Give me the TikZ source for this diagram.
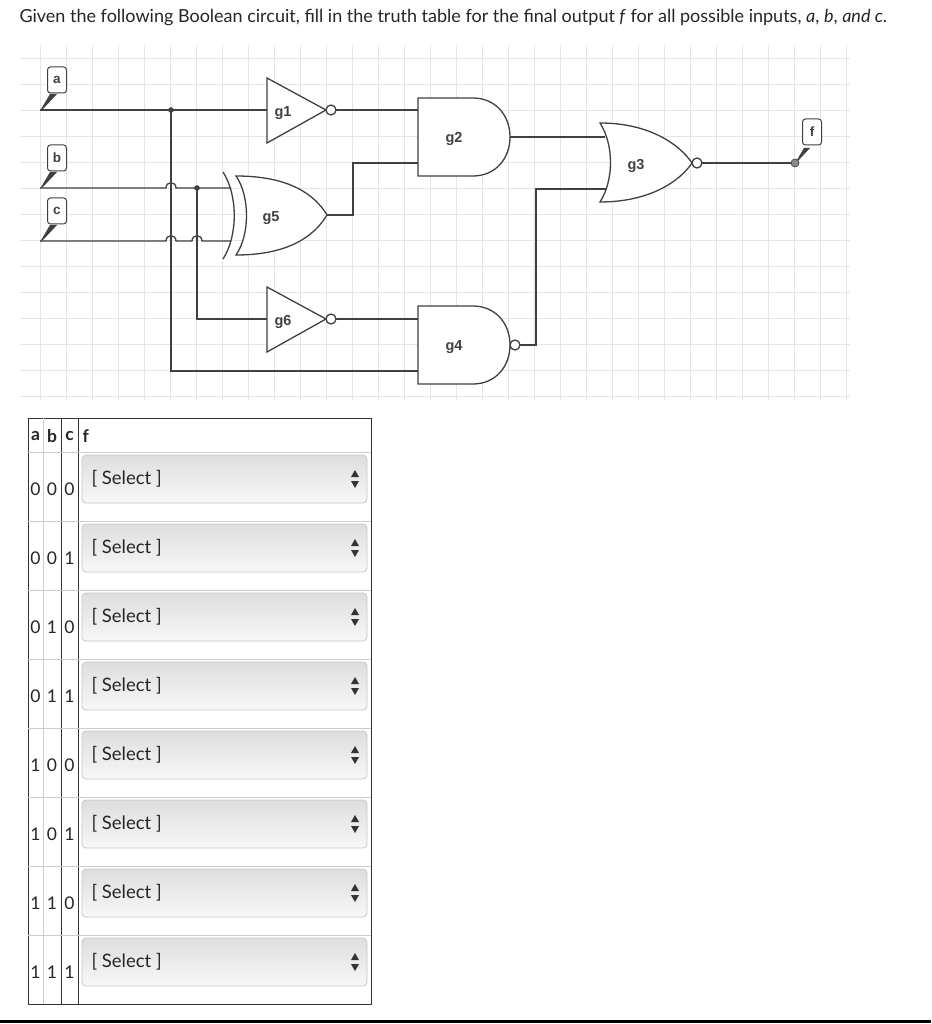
\documentclass[tikz,border=0pt]{standalone}
\usepackage{fontspec}
\setmainfont{Lato}
\newfontfamily\gatefont{Liberation Sans}
\begin{document}
\begin{tikzpicture}[x=1pt,y=-1pt,
  wire/.style={draw=black!75,line width=1.3pt},
  gate/.style={draw=black!75,line width=1.3pt,fill=white},
  glabel/.style={font=\gatefont\fontsize{14.5}{14}\selectfont\bfseries,text=black!75},
  tab/.style={draw=black!75,line width=1pt,rounded corners=3pt,fill=white,minimum width=19pt,minimum height=26pt,inner sep=0pt,font=\gatefont\fontsize{13.5}{13}\selectfont\bfseries,text=black!75},
  cell/.style={font=\fontsize{17.5}{17}\selectfont,text=black!85},
  hcell/.style={font=\fontsize{17.5}{17}\selectfont\bfseries,text=black!85},
  sel/.style={draw=black!22,rounded corners=4pt,top color=black!13,bottom color=black!3,line width=0.8pt},
  seltext/.style={font=\fontsize{18.5}{18}\selectfont,text=black!85,anchor=west}]
\useasboundingbox (0,0) rectangle (931,1024);
\fill[white] (0,0) rectangle (931,1024);
% title
\node[anchor=west,font=\fontsize{18}{18}\selectfont,text=black!85] (title) at (16,18) {Given the following Boolean circuit, fill in the truth table for the final output \textit{f} for all possible inputs, \textit{a}, \textit{b}, \textit{and c}.};
% grid
\foreach \k in {0,...,31} \draw[black!10,line width=0.8pt] ({40.7+26*\k},45) -- ({40.7+26*\k},400);
\foreach \k in {0,...,13} \draw[black!10,line width=0.8pt] (20,{58+26*\k}) -- (850,{58+26*\k});
% coordinates
\coordinate (ain) at (40,110); \coordinate (bin) at (40,188); \coordinate (cin) at (40,241);
\coordinate (ja) at (171,110); \coordinate (jb) at (197,188);
% input tabs
\foreach \n/\y in {a/110,b/188,c/241}{
  \fill[black!75] (40,\y+1) -- (50,\y-16) -- (57,\y-16) -- (43,\y-1) -- cycle;
  \node[tab] (t\n) at (57,\y-30) {\n};
}
% wires
\draw[wire] (ain) -- (ja) -- (267,110);
\draw[wire] (bin) -- (166,188) .. controls (166,181) and (176,181) .. (176,188) -- (jb) -- (231,188);
\draw[wire] (cin) -- (166,241) .. controls (166,234) and (176,234) .. (176,241) -- (192,241) .. controls (192,234) and (202,234) .. (202,241) -- (231,241);
\draw[wire] (ja) -- (171,371) -- (418,371);
\draw[wire] (jb) -- (197,319) -- (267,319);
\fill[black!75] (ja) circle (2.8pt) (jb) circle (2.8pt);
\draw[wire] (336,110) -- (418,110);
\draw[wire] (327,215) -- (353,215) -- (353,163) -- (418,163);
\draw[wire] (336,319) -- (418,319);
\draw[wire] (510,137) -- (605,137);
\draw[wire] (520,345) -- (536,345) -- (536,189) -- (607,189);
\draw[wire] (702,163) -- (795,163);
% gates
\draw[gate] (267,78) -- (326,110) -- (267,143) -- cycle;
\draw[gate] (331,110) circle (5pt);
\node[glabel] (g1) at (283,113) {g1};
\draw[gate] (267,287) -- (326,319) -- (267,352) -- cycle;
\draw[gate] (331,319) circle (5pt);
\node[glabel] (g6) at (283,322) {g6};
\draw[gate] (236,176) .. controls (290,176) and (315,195) .. (327,215) .. controls (315,235) and (290,255) .. (236,255) .. controls (250,235) and (250,196) .. (236,176) -- cycle;
\draw[wire] (223,172) .. controls (238,195) and (238,236) .. (223,259);
\node[glabel] (g5) at (271,218) {g5};
\foreach \n/\t in {g2/98,g4/306}{
  \draw[gate] (418,\t) -- (473,\t) .. controls (495,\t) and (510,\t+17) .. (510,\t+39) .. controls (510,\t+61) and (495,\t+78) .. (473,\t+78) -- (418,\t+78) -- cycle;
  \node[glabel] (\n) at (454,\t+41) {\n};
}
\draw[gate] (515,345) circle (5pt);
\draw[gate] (600,123) .. controls (650,123) and (680,145) .. (692,163) .. controls (680,181) and (650,202) .. (600,202) .. controls (614,180) and (614,145) .. (600,123) -- cycle;
\draw[gate] (697,163) circle (5pt);
\node[glabel] (g3) at (636,166) {g3};
% output
\fill[black!75] (794,165) -- (804,148) -- (810,148) -- (797,162) -- cycle;
\filldraw[fill=black!45,draw=black!70,line width=0.8pt] (795,163) circle (4pt);
\node[tab] (tf) at (812,132) {f};
% table
\draw[black!80,line width=1pt] (28,418) rectangle (371,1004);
\draw[black!20,line width=0.8pt] (43,418) -- (43,1004);
\draw[black!80,line width=1pt] (61,418) -- (61,1004);
\draw[black!80,line width=1pt] (78,418) -- (78,1004);
\foreach \k in {0,...,7} \draw[black!20,line width=0.8pt] (28,{452+69*\k}) -- (371,{452+69*\k});
\node[hcell] (ha) at (35.5,436) {a};
\node[hcell] (hb) at (52,436) {b};
\node[hcell] (hc) at (69.5,436) {c};
\node[hcell,anchor=west] (hf) at (79,436) {f};
\foreach \a/\b/\c [count=\i from 0] in {0/0/0,0/0/1,0/1/0,0/1/1,1/0/0,1/0/1,1/1/0,1/1/1}{
  \pgfmathsetmacro{\yc}{489+69*\i}
  \node[cell] at (35.5,\yc) {\a};
  \node[cell] at (52,\yc) {\b};
  \node[cell] at (69.5,\yc) {\c};
  \draw[sel] (82,{455+69*\i}) rectangle (367,{503+69*\i});
  \node[seltext] at (88,{479+69*\i}) {[ Select ]};
  \fill[black!80] (351,{477+69*\i}) -- (359,{477+69*\i}) -- (355,{470+69*\i}) -- cycle;
  \fill[black!80] (351,{481+69*\i}) -- (359,{481+69*\i}) -- (355,{488+69*\i}) -- cycle;
}
\draw[black,line width=3pt] (0,1021.5) -- (931,1021.5);
\end{tikzpicture}
\end{document}
